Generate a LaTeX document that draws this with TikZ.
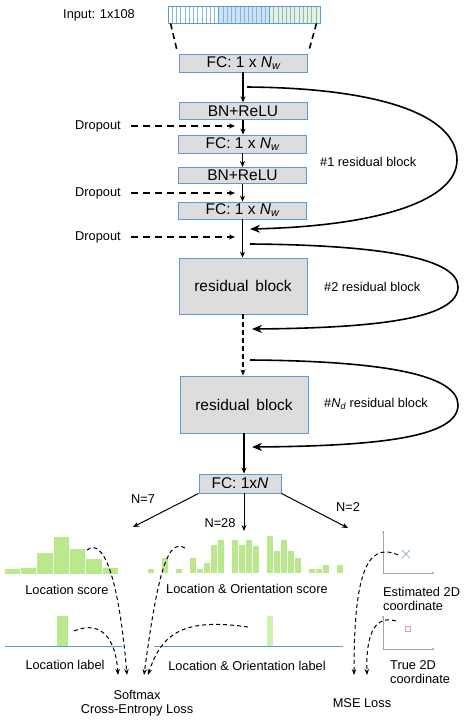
\documentclass[tikz,border=0pt]{standalone}
\usepackage{fontspec}
\setmainfont{Liberation Sans}
\usetikzlibrary{arrows.meta,calc}
\definecolor{boxblue}{RGB}{91,155,213}
\definecolor{boxgray}{RGB}{221,221,221}
\definecolor{hgreen}{RGB}{186,232,140}
\definecolor{hgreenl}{RGB}{208,241,178}
\definecolor{inblue}{RGB}{205,225,242}
\definecolor{ingreen}{RGB}{230,242,212}
\definecolor{axgray}{RGB}{165,165,165}
\definecolor{xblue}{RGB}{150,185,225}
\definecolor{sqpink}{RGB}{232,150,170}
\begin{document}
\begin{tikzpicture}[x=1pt,y=-1pt,
  layer/.style={draw=boxblue,fill=boxgray,line width=0.9pt,inner sep=0pt,minimum width=128pt,font=\fontsize{15.5}{18}\selectfont},
  lbl/.style={font=\fontsize{12.8}{14.5}\selectfont,inner sep=0pt},
  flow/.style={line width=1.3pt,-{Stealth[length=6pt,width=5pt]}},
  outarrow/.style={line width=1pt,-{Stealth[length=6pt,width=5pt]}},
  skip/.style={line width=1.6pt,-{Stealth[length=10pt,width=8pt]}},
  drop/.style={line width=1.6pt,dash pattern=on 7pt off 5pt,-{Stealth[length=6pt,width=5pt]}},
  thickdash/.style={line width=1.6pt,dash pattern=on 6pt off 4pt},
  lossarrow/.style={line width=1pt,dash pattern=on 4pt off 3pt,-{Stealth[length=6pt,width=4.5pt]}},
  bar/.style={fill=hgreen,draw=white,line width=0.4pt},
  axis/.style={draw=axgray,line width=0.6pt},
]
\fill[white] (0,0) rectangle (474,724);
\useasboundingbox (0,0) rectangle (474,724);

% ---- input vector ----
\fill[white] (168,6) rectangle (218.7,23);
\fill[inblue] (218.7,6) rectangle (269.3,23);
\fill[ingreen] (269.3,6) rectangle (320,23);
\foreach \i in {1,...,35} \draw[boxblue!75,line width=0.4pt] ({168+\i*152/36},6) -- ++(0,17);
\draw[boxblue,line width=1pt] (218.7,6) -- ++(0,17) (269.3,6) -- ++(0,17);
\node[draw=boxblue,line width=0.9pt,minimum width=152pt,minimum height=17pt,inner sep=0pt] (inp) at (244,14.5) {};
\node[lbl,anchor=west] (intxt) at (63,15) {Input: 1x108};

% ---- layers ----
\node[layer,minimum height=18pt] (fc1) at (243.5,63) {FC: 1 x {\itshape N}\textsubscript{\itshape w}};
\node[layer,minimum height=16.5pt] (bn1) at (243,111) {BN+ReLU};
\node[layer,minimum height=18pt] (fc2) at (242.5,144) {FC: 1 x {\itshape N}\textsubscript{\itshape w}};
\node[layer,minimum height=16pt] (bn2) at (242.5,175.5) {BN+ReLU};
\node[layer,minimum height=17pt] (fc3) at (242.5,210.5) {FC: 1 x {\itshape N}\textsubscript{\itshape w}};
\node[layer,minimum height=56pt] (rb2) at (243,286) {residual\, block};
\node[layer,minimum height=57pt] (rb3) at (244,404.5) {residual\, block};
\node[layer,minimum width=82pt,minimum height=19pt] (fcn) at (240,483.5) {FC: 1x{\itshape N}};

\draw[thickdash] ([xshift=3pt]inp.south west) -- ([xshift=-2pt,yshift=3pt]fc1.north west);
\draw[thickdash] ([xshift=-4pt]inp.south east) -- ([xshift=1pt,yshift=3pt]fc1.north east);

\draw[flow] (fc1.south -| bn1.north) -- (bn1.north);
\draw[flow] (bn1.south) -- (bn1.south |- fc2.north);
\draw[flow] (fc2.south) -- (fc2.south |- bn2.north);
\draw[flow] (bn2.south) -- (bn2.south |- fc3.north);
\draw[flow] (fc3.south) -- (fc3.south |- rb2.north);
\draw[flow,dash pattern=on 5pt off 3pt] (rb2.south) -- (rb2.south |- rb3.north);
\draw[flow] (rb3.south) -- (rb3.south |- fcn.north);

% ---- dropout ----
\node[lbl,anchor=west] (dr1) at (75,126) {Dropout};
\node[lbl,anchor=west] (dr2) at (75,193) {Dropout};
\node[lbl,anchor=west] (dr3) at (75,237) {Dropout};
\coordinate (j1) at (235,126);
\coordinate (j2) at (235,193);
\coordinate (j3) at (235,237);
\draw[drop] ([xshift=10pt]dr1.east) -- (j1);
\draw[drop] ([xshift=10pt]dr2.east) -- (j2);
\draw[drop] ([xshift=10pt]dr3.east) -- (j3);

% ---- residual skips ----
\coordinate (s1) at (247,87);  \coordinate (e1) at (250,229);
\coordinate (s2) at (250,244); \coordinate (e2) at (252,329);
\coordinate (s3) at (250,360); \coordinate (e3) at (252,447);
\draw[skip] (s1) .. controls (380,88) and (457,115) .. (457,160) .. controls (457,200) and (380,226) .. (e1);
\draw[skip] (s2) .. controls (380,245) and (458,258) .. (458,287) .. controls (458,318) and (380,328) .. (e2);
\draw[skip] (s3) .. controls (385,361) and (458,375) .. (458,405) .. controls (458,437) and (380,446) .. (e3);
\node[lbl,anchor=west] (r1) at (320,162) {\#1 residual block};
\node[lbl,anchor=west] (r2) at (324,287) {\#2 residual block};
\node[lbl,anchor=west] (r3) at (324,404) {\#{\itshape N}\textsubscript{\itshape d} residual block};

% ---- outputs ----
\coordinate (o1) at (133,527);
\coordinate (o2) at (244,531);
\coordinate (o3) at (348,528);
\draw[outarrow] (fcn.south west) -- (o1);
\draw[outarrow] (fcn.south -| o2) -- (o2);
\draw[outarrow] (fcn.south east) -- (o3);
\node[lbl] (n7) at (143,499) {N=7};
\node[lbl] (n28) at (220,523) {N=28};
\node[lbl] (n2) at (348,507) {N=2};

% ---- histograms ----
\foreach \h [count=\i from 0] in {6,7,22,38,26,16,7}
  \draw[bar] ({4+\i*16.3},574) rectangle ++(16.3,-\h);
\foreach \h [count=\i from 0] in {5,0,16,0,5,0,16,5,11,29,34,0,34,29,34,28,0,38,23,34,23,16,0,5,5,9,0,9}
  {\ifnum\h>0 \draw[bar] ({146.7+\i*7},573) rectangle ++(7,-\h);\fi}
\node[lbl] (ls) at (67,590) {Location score};
\node[lbl] (los) at (247,589) {Location \& Orientation score};

% label rows
\draw[boxblue,line width=1pt] (5,646) -- (122,646);
\draw[boxblue,line width=1pt] (154,646) -- (343,646);
\fill[hgreen] (57,616) rectangle (68,645.5);
\fill[hgreenl] (267,616) rectangle (273,645.5);
\node[lbl] (ll) at (65,665) {Location label};
\node[lbl] (lol) at (247,666) {Location \& Orientation label};

% coordinates plots
\draw[axis] (383,532) -- (383,573) -- (433,573);
\fill[gray] (383,532) circle (0.9) (433,573) circle (0.9);
\draw[xblue,line width=0.8pt] (402,550) -- (410,558) (402,558) -- (410,550);
\node[lbl,anchor=west,align=left] (est) at (383,599) {Estimated 2D\\coordinate};
\draw[axis] (383,617) -- (383,649) -- (433,649);
\fill[gray] (383,617) circle (0.9) (433,649) circle (0.9);
\draw[sqpink,line width=0.8pt] (405.5,626.5) rectangle (410.5,631.5);
\node[lbl,anchor=west,align=left] (tru) at (390,672) {True 2D\\coordinate};

% losses
\node[lbl,align=center] (ce) at (137,703) {Softmax\\Cross-Entropy Loss};
\node[lbl] (mse) at (362,703) {MSE Loss};
\coordinate (a1) at (87,550);  \coordinate (b1) at (127,675);
\coordinate (a2) at (74,631);  \coordinate (b2) at (118,675);
\coordinate (a3) at (185,548); \coordinate (b3) at (144,675);
\coordinate (a4) at (248,627); \coordinate (b4) at (148,675);
\coordinate (a5) at (398,555); \coordinate (b5) at (354,675);
\coordinate (a6) at (396,621); \coordinate (b6) at (367,675);
\draw[lossarrow] (a1) .. controls (102,538) and (118,570) .. (b1);
\draw[lossarrow] (a2) .. controls (95,622) and (115,630) .. (b2);
\draw[lossarrow] (a3) .. controls (168,538) and (158,570) .. (b3);
\draw[lossarrow] (a4) .. controls (185,618) and (162,632) .. (b4);
\draw[lossarrow] (a5) .. controls (365,540) and (354,580) .. (b5);
\draw[lossarrow] (a6) .. controls (372,614) and (366,640) .. (b6);
\end{tikzpicture}
\end{document}
